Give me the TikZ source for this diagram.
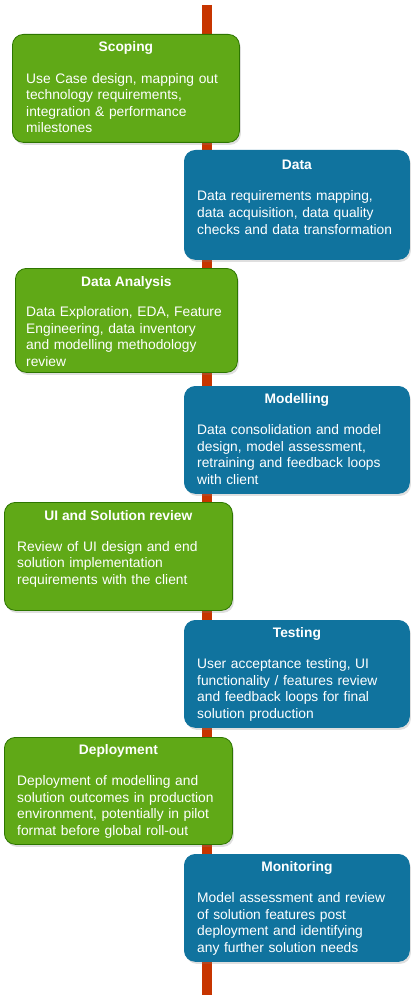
\documentclass[tikz,border=0pt]{standalone}
\usepackage{fontspec}
\setmainfont{Liberation Sans}
\usetikzlibrary{shadows}

\definecolor{phgreen}{HTML}{60A917}
\definecolor{phgreenline}{HTML}{2D7600}
\definecolor{phblue}{HTML}{10739E}
\definecolor{phred}{HTML}{C73500}

\tikzset{
  box/.style={
    rounded corners=11pt, line width=0.8pt,
    anchor=north west, inner sep=0pt,
    drop shadow={shadow xshift=1.5pt, shadow yshift=-2.5pt, opacity=0.25}
  },
  lbox/.style={box, draw=phgreenline, fill=phgreen},
  rbox/.style={box, draw=phblue, fill=phblue, minimum width=225pt, minimum height=107pt},
  head/.style={anchor=base, text=white, inner sep=0pt,
    font=\bfseries\fontsize{13.8}{16.5}\selectfont},
  txt/.style={anchor=base west, text width=205pt, align=left, text=white, inner sep=0pt,
    font=\fontsize{13.8}{16.5}\selectfont},
  timeline/.style={draw=phred, line width=10pt},
}

\begin{document}
\begin{tikzpicture}[x=1pt,y=-1pt]
\useasboundingbox (0,0) rectangle (416,1000);

\coordinate (top) at (207,5);
\coordinate (bottom) at (207,995);
\draw[timeline] (top) -- (bottom);

\node[lbox, minimum width=227pt, minimum height=108pt] (scope) at (12,34) {};
\node[head] (scopeT) at ([yshift=-18pt]scope.north) {Scoping};
\node[txt] (scopeB) at ([xshift=14pt,yshift=-49.5pt]scope.north west)
  {Use Case design, mapping out\\technology requirements,\\integration \& performance\\milestones};

\node[rbox, minimum height=109pt] (data) at (184,150) {};
\node[head] (dataT) at ([yshift=-20pt]data.north) {Data};
\node[txt] (dataB) at ([xshift=13pt,yshift=-51pt]data.north west)
  {Data requirements mapping,\\data acquisition, data quality\\checks and data transformation};

\node[lbox, minimum width=222pt, minimum height=104pt] (analysis) at (15,268) {};
\node[head] (analysisT) at ([yshift=-18pt]analysis.north) {Data Analysis};
\node[txt] (analysisB) at ([xshift=11pt,yshift=-48.5pt]analysis.north west)
  {Data Exploration, EDA, Feature\\Engineering, data inventory\\and modelling methodology\\review};

\node[rbox] (model) at (184,386) {};
\node[head] (modelT) at ([yshift=-17.5pt]model.north) {Modelling};
\node[txt] (modelB) at ([xshift=13pt,yshift=-48.5pt]model.north west)
  {Data consolidation and model\\design, model assessment,\\retraining and feedback loops\\with client};

\node[lbox, minimum width=228pt, minimum height=108pt] (uireview) at (4,502) {};
\node[head] (uireviewT) at ([yshift=-18pt]uireview.north) {UI and Solution review};
\node[txt] (uireviewB) at ([xshift=13pt,yshift=-49pt]uireview.north west)
  {Review of UI design and end\\solution implementation\\requirements with the client};

\node[rbox] (testing) at (184,620) {};
\node[head] (testingT) at ([yshift=-17.5pt]testing.north) {Testing};
\node[txt] (testingB) at ([xshift=13pt,yshift=-48.5pt]testing.north west)
  {User acceptance testing, UI\\functionality / features review\\and feedback loops for final\\solution production};

\node[lbox, minimum width=228pt, minimum height=107pt] (deploy) at (4,737) {};
\node[head] (deployT) at ([yshift=-17.5pt]deploy.north) {Deployment};
\node[txt] (deployB) at ([xshift=13pt,yshift=-48.5pt]deploy.north west)
  {Deployment of modelling and\\solution outcomes in production\\environment, potentially in pilot\\format before global roll-out};

\node[rbox] (monitor) at (184,854) {};
\node[head] (monitorT) at ([yshift=-17.5pt]monitor.north) {Monitoring};
\node[txt] (monitorB) at ([xshift=13pt,yshift=-48.5pt]monitor.north west)
  {Model assessment and review\\of solution features post\\deployment and identifying\\any further solution needs};
\end{tikzpicture}
\end{document}
